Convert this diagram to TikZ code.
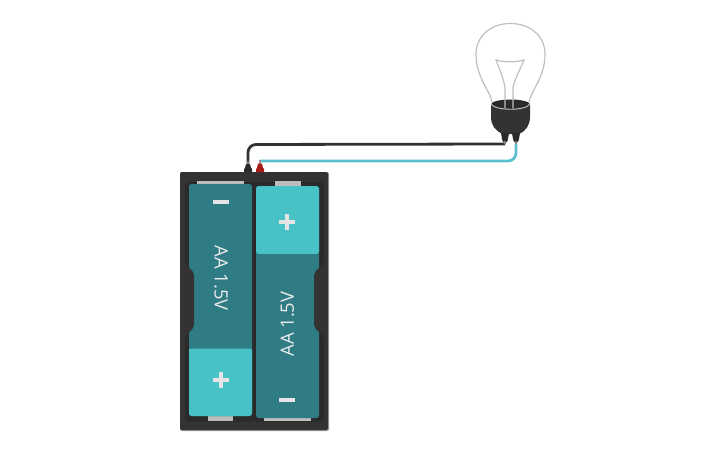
\documentclass[tikz,border=0pt]{standalone}
\usepackage{fontspec}
\setmainfont{Open Sans}
\definecolor{holderdark}{HTML}{2A2A2A}
\definecolor{holdermain}{HTML}{333333}
\definecolor{holderedge}{HTML}{999999}
\definecolor{celldark}{HTML}{2F7C84}
\definecolor{celllight}{HTML}{48C2C6}
\definecolor{contactgray}{HTML}{BDBDBD}
\definecolor{wirecyan}{HTML}{5BBFCF}
\definecolor{plugred}{HTML}{A81C1C}
\tikzset{
  celltext/.style={text=white!92!black, font=\fontsize{13.8}{13.8}\selectfont, inner sep=0pt},
  contact/.style={fill=contactgray},
  wireblack/.style={draw=holdermain, line width=2.1pt, rounded corners=6pt},
  wireblue/.style={draw=wirecyan, line width=2.1pt, rounded corners=6pt},
  glass/.style={draw=black!25, line width=0.9pt},
  signbar/.style={white!90!black, line width=2.4pt}
}
\begin{document}
\begin{tikzpicture}[x=0.75pt,y=-0.75pt]
  \useasboundingbox (0,0) rectangle (725,453);
  % Pontas dos fios
  \coordinate (holderblack) at (248,163);
  \coordinate (holderred) at (260,161);
  \coordinate (bulbblack) at (505,144);
  \coordinate (bulbcyan) at (516,144);
  % Suporte
  \fill[holderedge,rounded corners=1.5pt] (180,172) rectangle (329,431);
  \fill[holdermain,rounded corners=1.5pt] (180,172) rectangle (328,430);
  \fill[holderdark,rounded corners=3pt] (185,182) rectangle (324,421.5);
  % Contatos
  \fill[contact] (197,181) rectangle (244,184);
  \fill[contact] (275,181) rectangle (301,187);
  \fill[contact] (208,415) rectangle (233,421);
  \fill[contact] (264,417) rectangle (311,421);
  % Pilha esquerda
  \fill[celldark,rounded corners=2pt] (189,184) rectangle (252,416);
  \fill[celllight,rounded corners=2pt] (189,348.5) rectangle (252,416);
  \fill[celllight] (189,348.5) rectangle (252,354);
  % Pilha direita
  \fill[celldark,rounded corners=2pt] (256,186) rectangle (319,418);
  \fill[celllight,rounded corners=2pt] (256,186) rectangle (319,254);
  \fill[celldark] (256,254) rectangle (319,262);
  % Travas laterais
  \fill[holdermain] (185,261) .. controls (186,268) and (194,268) .. (194,277) -- (194,323)
    .. controls (194,332) and (186,332) .. (185,339) -- cycle;
  \fill[holdermain] (324,261) .. controls (323,268) and (314,268) .. (314,277) -- (314,323)
    .. controls (314,332) and (323,332) .. (324,339) -- cycle;
  % Rótulos das pilhas
  \node[celltext,rotate=-90] (lefttext) at (221,278) {AA 1.5V};
  \node[celltext,rotate=90] (righttext) at (287.5,324) {AA 1.5V};
  % Sinais
  \draw[signbar] (213,202) -- (229,202);
  \draw[signbar] (213,380) -- (229,380);
  \draw[signbar] (221,372) -- (221,388);
  \draw[signbar] (279,222) -- (295,222);
  \draw[signbar] (287,214) -- (287,230);
  \draw[signbar] (279,400) -- (295,400);
  % Fios
  \draw[wireblack] (holderblack) -- (248,144.5) -- (bulbblack);
  \draw[wireblue] (holderred) -- (516,161) -- (bulbcyan);
  % Plugues do suporte
  \fill[black!55] (247,161) rectangle (249,165);
  \fill[holderdark] (246,164) -- (250,164) -- (251,168) -- (252,169) -- (252,172) -- (244,172) -- (244,169) -- (245,168) -- cycle;
  \fill[black!40] (259,160) rectangle (261,164);
  \fill[plugred] (258,163.5) -- (262,163.5) -- (263,168) -- (264,169) -- (264,172) -- (256,172) -- (256,169) -- (257,168) -- cycle;
  % Vidro da lâmpada
  \draw[glass] (492,102) .. controls (490,90) and (476,78) .. (476,54)
    .. controls (476,36) and (491,23.5) .. (510.5,23.5)
    .. controls (530,23.5) and (545,36) .. (545,54)
    .. controls (545,78) and (531,90) .. (529,102);
  % Soquete
  \fill[holdermain] (491,104) -- (530,104) -- (530,117)
    .. controls (530,125) and (526,131) .. (519,134) -- (503,134)
    .. controls (495,131) and (491,125) .. (491,117) -- cycle;
  \fill[holderdark] (510.5,104.5) ellipse (19.5 and 5);
  \draw[draw=black!22,line width=0.7pt] (491,104) .. controls (495,111) and (526,111) .. (530,104);
  % Filamento
  \draw[glass] (505,108.5) -- (505,88) .. controls (504,80) and (500,70) .. (496,60)
    .. controls (505,62.5) and (515,62.5) .. (524,60)
    .. controls (520,70) and (514,80) .. (513,88) -- (513,108.5);
  % Pinos do soquete
  \fill[holderdark] (501,133) -- (509,133) -- (508,139) -- (507,142) -- (503,142) -- (502,139) -- cycle;
  \fill[holderdark] (512,133) -- (520,133) -- (519,139) -- (518,142) -- (514,142) -- (513,139) -- cycle;
  \fill[black!50] (504,141) rectangle (506,144);
  \fill[black!50] (515,141) rectangle (517,144);
\end{tikzpicture}
\end{document}
